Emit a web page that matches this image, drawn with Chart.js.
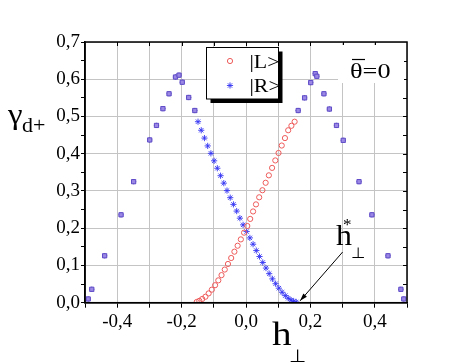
<!DOCTYPE html>
<html>
<head>
<meta charset="utf-8">
<script src="https://cdn.jsdelivr.net/npm/chart.js@4.4.0/dist/chart.umd.min.js"></script>
<style>
html, body { margin: 0; padding: 0; background: #fff; }
#wrap { width: 474px; height: 363px; }
</style>
</head>
<body>
<div id="wrap"><canvas id="chart" width="474" height="363"></canvas></div>
<script>
// outer branch, |L> and |R> coincide here
const outerH = [-0.490, -0.479, -0.439, -0.388, -0.349, -0.299, -0.278, -0.258, -0.239, -0.219, -0.208, -0.198, -0.178, -0.159,
    0.162, 0.182, 0.201, 0.215, 0.220, 0.242, 0.259, 0.281, 0.302, 0.351, 0.391, 0.441, 0.481, 0.490]
const outerGamma = [0.010, 0.036, 0.126, 0.236, 0.325, 0.437, 0.476, 0.521, 0.561, 0.606, 0.611, 0.592, 0.551, 0.516,
    0.516, 0.550, 0.591, 0.615, 0.608, 0.561, 0.520, 0.476, 0.436, 0.325, 0.236, 0.126, 0.036, 0.010]

// |L> inner branch (circles)
const lH = [-0.153, -0.145, -0.136, -0.126, -0.116, -0.106, -0.096, -0.086, -0.076, -0.066, -0.056, -0.046, -0.036, -0.026, -0.016, -0.006,
    0.004, 0.013, 0.022, 0.031, 0.041, 0.051, 0.061, 0.071, 0.081, 0.091, 0.101, 0.111, 0.121, 0.131, 0.141, 0.151]
const lGamma = [0.002, 0.005, 0.010, 0.016, 0.025, 0.035, 0.047, 0.060, 0.074, 0.089, 0.104, 0.120, 0.137, 0.153, 0.170, 0.188,
    0.206, 0.225, 0.245, 0.264, 0.283, 0.302, 0.322, 0.342, 0.362, 0.382, 0.402, 0.422, 0.442, 0.463, 0.475, 0.486]

// |R> inner branch (stars)
const rH = [-0.149, -0.139, -0.129, -0.119, -0.109, -0.099, -0.089, -0.079, -0.069, -0.059, -0.049, -0.039, -0.029, -0.019, -0.009, 0.002,
    0.012, 0.022, 0.032, 0.042, 0.052, 0.062, 0.072, 0.082, 0.092, 0.102, 0.112, 0.122, 0.131, 0.140, 0.148, 0.156]
const rGamma = [0.486, 0.463, 0.442, 0.421, 0.401, 0.381, 0.361, 0.341, 0.321, 0.301, 0.282, 0.264, 0.246, 0.227, 0.209, 0.191,
    0.174, 0.157, 0.140, 0.124, 0.108, 0.093, 0.078, 0.064, 0.051, 0.039, 0.028, 0.019, 0.012, 0.007, 0.004, 0.002]

const xTickValues = [-0.4, -0.2, 0.0, 0.2, 0.4]
const yTickValues = [0.0, 0.1, 0.2, 0.3, 0.4, 0.5, 0.6, 0.7]
const legendLabels = ["|L>", "|R>"]
const hStar = 0.168   // arrow tip on the h axis

const FONT = "'Liberation Serif', 'Times New Roman', serif"
const near = (a, b) => Math.abs(a - b) < 1e-6
const fmt = v => v.toFixed(1).replace('.', ',')
const toPoints = (xs, ys) => xs.map((x, i) => ({x: x, y: ys[i]}))

const lStyle = {pointStyle: 'circle', radius: 2.6, borderWidth: 1, color: '#ee5a5a'}
const rStyle = {pointStyle: 'star', radius: 3.1, borderWidth: 0.9, color: '#3434f4'}

function text(ctx, str, x, y, size, sx) {
    ctx.save()
    ctx.translate(x, y)
    ctx.scale(sx || 1, 1)
    ctx.font = size + "px " + FONT
    ctx.fillStyle = '#000'
    ctx.textBaseline = 'alphabetic'
    ctx.textAlign = 'left'
    ctx.fillText(str, 0, 0)
    ctx.restore()
}

const decorations = {
    id: 'decorations',
    afterDraw(chart) {
        const ctx = chart.ctx
        const a = chart.chartArea
        const xs = chart.scales.x
        const ys = chart.scales.y

        // frame
        ctx.save()
        ctx.strokeStyle = '#000'
        ctx.lineWidth = 1.5
        ctx.strokeRect(a.left, a.top, a.right - a.left, a.bottom - a.top)
        // inward ticks on top and right
        ctx.lineWidth = 1
        ctx.beginPath()
        for (let v = -0.4; v < 0.45; v += 0.1) {
            const px = Math.round(xs.getPixelForValue(v)) + 0.5
            ctx.moveTo(px, a.top); ctx.lineTo(px, a.top + 4)
        }
        for (let v = 0.05; v < 0.7; v += 0.05) {
            const py = Math.round(ys.getPixelForValue(v)) + 0.5
            ctx.moveTo(a.right, py); ctx.lineTo(a.right - 4, py)
        }
        ctx.stroke()
        ctx.restore()

        // legend box with shadow
        const lx = 206.5, ly = 47.5, lw = 72, lh = 51.5
        ctx.save()
        ctx.fillStyle = '#000'
        ctx.fillRect(lx + 4, ly + 4, lw, lh)
        ctx.fillStyle = '#fff'
        ctx.fillRect(lx, ly, lw, lh)
        ctx.strokeStyle = '#000'
        ctx.lineWidth = 1
        ctx.strokeRect(lx, ly, lw, lh)
        ;[lStyle, rStyle].forEach((st, i) => {
            const my = ly + 13.5 + i * 24.5
            ctx.strokeStyle = st.color
            ctx.fillStyle = 'transparent'
            ctx.lineWidth = st.borderWidth
            Chart.helpers.drawPoint(ctx, {pointStyle: st.pointStyle, radius: st.radius, borderWidth: st.borderWidth, rotation: 0}, lx + 23.5, my)
            text(ctx, legendLabels[i], lx + 43, my + 6.5, 19, 1.15)
        })
        ctx.restore()

        // theta-bar = 0
        ctx.save()
        ctx.fillStyle = '#fff'
        ctx.fillRect(338, 45, 66, 38)
        ctx.restore()
        text(ctx, "θ=0", 350, 78, 21, 1.25)
        ctx.save()
        ctx.strokeStyle = '#000'
        ctx.lineWidth = 1.2
        ctx.beginPath()
        ctx.moveTo(352, 59.5); ctx.lineTo(365, 59.5)
        ctx.stroke()
        ctx.restore()

        // axis titles
        text(ctx, "γ", 8, 124, 30, 1.1)
        text(ctx, "d+", 22, 132, 20, 1.1)
        text(ctx, "h", 272, 345, 34, 1.15)
        text(ctx, "⊥", 289, 362, 18, 1.1)

        // h*_perp annotation with arrow
        const tipX = xs.getPixelForValue(hStar), tipY = ys.getPixelForValue(0.005)
        const tailX = xs.getPixelForValue(0.30), tailY = ys.getPixelForValue(0.136)
        ctx.save()
        ctx.strokeStyle = '#000'
        ctx.lineWidth = 1
        ctx.beginPath()
        ctx.moveTo(tailX, tailY); ctx.lineTo(tipX, tipY)
        ctx.stroke()
        const ang = Math.atan2(tipY - tailY, tipX - tailX)
        ctx.fillStyle = '#000'
        ctx.beginPath()
        ctx.moveTo(tipX, tipY)
        ctx.lineTo(tipX - 8 * Math.cos(ang - 0.3), tipY - 8 * Math.sin(ang - 0.3))
        ctx.lineTo(tipX - 8 * Math.cos(ang + 0.3), tipY - 8 * Math.sin(ang + 0.3))
        ctx.closePath()
        ctx.fill()
        ctx.restore()
        text(ctx, "h", 336, 245, 29, 1.1)
        text(ctx, "*", 343, 230, 17, 1)
        text(ctx, "⊥", 351, 258, 15, 1.1)
    }
}

const gridColor = (ctx, step) => {
    const v = ctx.tick ? ctx.tick.value : 0
    return near(v / step, Math.round(v / step)) ? '#c4c4c4' : 'rgba(0,0,0,0)'
}

new Chart(document.getElementById('chart').getContext('2d'), {
    type: 'scatter',
    data: {
        datasets: [{
            label: legendLabels[0],
            data: toPoints(lH, lGamma),
            pointStyle: lStyle.pointStyle,
            pointRadius: lStyle.radius,
            pointBorderWidth: lStyle.borderWidth,
            borderColor: lStyle.color,
            backgroundColor: 'rgba(0,0,0,0)'
        }, {
            label: legendLabels[1],
            data: toPoints(rH, rGamma),
            pointStyle: rStyle.pointStyle,
            pointRadius: rStyle.radius,
            pointBorderWidth: rStyle.borderWidth,
            borderColor: rStyle.color,
            backgroundColor: 'rgba(0,0,0,0)'
        }, {
            label: 'both',
            data: toPoints(outerH, outerGamma),
            pointStyle: 'rect',
            pointRadius: 3,
            pointBorderWidth: 1,
            borderColor: '#5f4cc8',
            backgroundColor: '#9a88e4'
        }, {
            label: 'both-star',
            data: toPoints(outerH, outerGamma),
            pointStyle: 'star',
            pointRadius: 2.6,
            pointBorderWidth: 0.9,
            borderColor: '#2a1ca8',
            backgroundColor: 'rgba(0,0,0,0)'
        }]
    },
    options: {
        animation: false,
        responsive: false,
        layout: {padding: {left: 0, right: 67, top: 42, bottom: 0}},
        plugins: {legend: {display: false}, tooltip: {enabled: false}},
        scales: {
            x: {
                type: 'linear',
                min: -0.5,
                max: 0.5,
                afterFit: s => { s.height = 60.3 },
                ticks: {
                    stepSize: 0.1,
                    autoSkip: false,
                    maxRotation: 0,
                    padding: 3,
                    color: '#000',
                    font: {family: FONT, size: 19},
                    callback: v => xTickValues.some(t => near(t, v)) ? fmt(v) : ''
                },
                grid: {color: c => gridColor(c, 0.1), tickColor: '#000', tickLength: 5},
                border: {color: '#000', width: 1.5}
            },
            y: {
                type: 'linear',
                min: 0,
                max: 0.7,
                afterFit: s => { s.width = 85 },
                ticks: {
                    stepSize: 0.05,
                    autoSkip: false,
                    padding: 1,
                    color: '#000',
                    font: {family: FONT, size: 19},
                    callback: v => yTickValues.some(t => near(t, v)) ? fmt(v) : ''
                },
                grid: {color: c => gridColor(c, 0.1), tickColor: '#000', tickLength: 4},
                border: {color: '#000', width: 1.5}
            }
        }
    },
    plugins: [decorations]
})
</script>
</body>
</html>
